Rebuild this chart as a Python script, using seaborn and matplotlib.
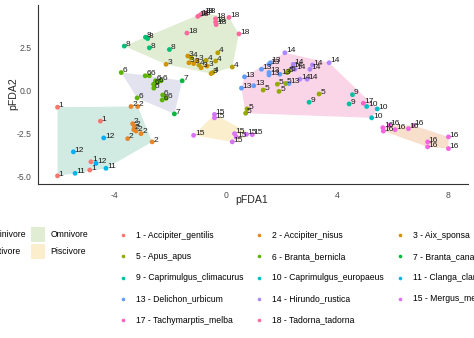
import numpy as np
import pandas as pd
import matplotlib
matplotlib.use("Agg")
import matplotlib.pyplot as plt
import seaborn as sns
from matplotlib.patches import Rectangle
from matplotlib.lines import Line2D

sns.set_style("white")
plt.rcParams['font.family'] = ['Liberation Sans', 'DejaVu Sans']

# ---------------- data ----------------
species_names = [
    "Accipiter_gentilis", "Accipiter_nisus", "Aix_sponsa", "Anas_platyrhynchos",
    "Apus_apus", "Branta_bernicla", "Branta_canadensis", "Cairina_moschata",
    "Caprimulgus_climacurus", "Caprimulgus_europaeus", "Clanga_clanga", "Clanga_pomarina",
    "Delichon_urbicum", "Hirundo_rustica", "Mergus_merganser", "Phoenicopterus_roseus",
    "Tachymarptis_melba", "Tadorna_tadorna",
]
species_diet = [
    "Carnivore", "Carnivore", "Omnivore", "Omnivore", "Insectivore", "Graminivore",
    "Graminivore", "Omnivore", "Insectivore", "Insectivore", "Carnivore", "Carnivore",
    "Insectivore", "Insectivore", "Piscivore", "Filter-feeder", "Insectivore", "Omnivore",
]
diet_levels = ["Carnivore", "Filter-feeder", "Graminivore", "Insectivore", "Omnivore", "Piscivore"]

point_species = ([1] * 5 + [2] * 9 + [3] * 8 + [4] * 7 + [5] * 9 + [6] * 12 + [7] * 2 + [8] * 5
                 + [9] * 3 + [10] * 3 + [11] * 2 + [12] * 3 + [13] * 10 + [14] * 9 + [15] * 8
                 + [16] * 10 + [17] * 1 + [18] * 10)
point_x = [
    -6.04, -4.50, -4.84, -4.88, -6.04,
    -3.40, -3.16, -3.34, -3.28, -3.30, -3.22, -3.04, -3.52, -2.64,
    -2.14, -1.36, -1.32, -1.15, -1.03, -0.88, -0.67, -0.52,
    -1.24, -0.96, -0.70, -0.46, -0.36, -0.28, 0.24,
    1.35, 1.92, 1.86, 2.16, 2.28, 2.21, 3.36, 0.77, 0.72,
    -3.75, -2.89, -2.74, -2.59, -2.52, -2.44, -2.32, -2.58, -2.26, -2.14, -2.28, -3.18,
    -1.56, -1.84,
    -3.64, -2.88, -2.80, -2.74, -2.02,
    3.00, 4.44, 4.56,
    5.07, 5.45, 5.25,
    -5.41, -4.30,
    -4.38, -5.47, -4.66,
    0.57, 0.68, 1.29, 1.56, 1.61, 1.56, 1.56, 1.95, 2.28, 1.01,
    2.13, 2.43, 2.40, 2.49, 3.03, 3.12, 3.72, 2.67, 2.93,
    -0.40, -0.40, -1.15, 0.32, 0.38, 0.24, 0.75, 0.96,
    5.65, 5.67, 5.89, 6.09, 6.57, 6.75, 7.26, 7.26, 8.01, 8.01,
    4.95,
    -1.00, -0.91, -0.82, -0.72, -0.36, -0.36, -0.34, 0.12, -1.39, 0.48,
]
point_y = [
    -0.96, -1.77, -4.14, -4.62, -4.96,
    -0.92, -0.92, -1.92, -2.08, -2.27, -2.35, -2.50, -2.79, -2.98,
    1.54, 2.02, 1.63, 1.58, 1.77, 1.34, 1.44, 1.00,
    1.92, 1.50, 1.77, 1.06, 1.73, 2.21, 1.38,
    0.04, -0.04, 0.38, 0.42, 1.15, 1.06, -0.19, -1.06, -1.31,
    1.06, 0.87, 0.87, 0.38, 0.58, 0.48, 0.58, 0.15, -0.25, -0.44, -0.54, -0.42,
    0.58, -1.35,
    2.60, 3.12, 3.04, 2.50, 2.40,
    -0.67, -0.77, -0.23,
    -0.92, -1.06, -1.58,
    -4.81, -4.52,
    -2.75, -3.56, -4.23,
    0.15, 0.81, 1.25, 1.54, 1.63, 1.06, 0.92, 0.96, 0.42, 0.29,
    2.21, 1.54, 1.34, 1.25, 1.25, 1.50, 1.63, 0.67, 0.67,
    -1.38, -1.58, -2.60, -2.50, -2.69, -2.98, -2.54, -2.56,
    -2.15, -2.35, -2.02, -2.27, -2.21, -2.02, -2.98, -3.27, -2.69, -3.37,
    -0.73,
    4.33, 4.42, 4.52, 4.52, 4.19, 4.00, 3.85, 4.27, 3.36, 3.31,
]
x_ticks = [-4, 0, 4, 8]
y_ticks = [-5.0, -2.5, 0.0, 2.5]
y_tick_labels = ["-5.0", "-2.5", "0.0", "2.5"]

# ---------------- colours ----------------
def hcl_hex(h, c=100.0, l=65.0):
    Xn, Yn, Zn = 95.047, 100.0, 108.883
    den = Xn + 15 * Yn + 3 * Zn
    un, vn = 4 * Xn / den, 9 * Yn / den
    Y = Yn * ((l + 16) / 116) ** 3
    hr = np.radians(h)
    u, v = c * np.cos(hr), c * np.sin(hr)
    up, vp = u / (13 * l) + un, v / (13 * l) + vn
    X = Y * 9 * up / (4 * vp)
    Z = Y * (12 - 3 * up - 20 * vp) / (4 * vp)
    X, Y, Z = X / 100, Y / 100, Z / 100
    rgb = np.array([3.240479 * X - 1.537150 * Y - 0.498535 * Z,
                    -0.969256 * X + 1.875992 * Y + 0.041556 * Z,
                    0.055648 * X - 0.204043 * Y + 1.057311 * Z])
    rgb = np.where(rgb <= 0.0031308, 12.92 * rgb, 1.055 * np.abs(rgb) ** (1 / 2.4) - 0.055)
    rgb = np.clip(rgb, 0, 1)
    return matplotlib.colors.to_hex(rgb)

n_sp = len(species_names)
sp_colors = [hcl_hex(15 + 360 * i / n_sp) for i in range(n_sp)]
diet_colors = ["#1B9E77", "#D95F02", "#7570B3", "#E7298A", "#66A61E", "#E6AB02"]
diet_alpha = 0.2

df = pd.DataFrame({"sp": point_species, "x": point_x, "y": point_y})
df["label"] = df["sp"].astype(str)
df["diet"] = [species_diet[s - 1] for s in df["sp"]]

# ---------------- figure ----------------
W, H = 474, 338
fig = plt.figure(figsize=(W / 100, H / 100), dpi=100)
ax = fig.add_axes([38 / W, 1 - 184 / H, 430 / W, 179 / H])

def hull(pts):
    pts = sorted(set(map(tuple, pts)))
    if len(pts) < 3:
        return pts
    def cross(o, a, b):
        return (a[0] - o[0]) * (b[1] - o[1]) - (a[1] - o[1]) * (b[0] - o[0])
    lower, upper = [], []
    for p in pts:
        while len(lower) >= 2 and cross(lower[-2], lower[-1], p) <= 0:
            lower.pop()
        lower.append(p)
    for p in reversed(pts):
        while len(upper) >= 2 and cross(upper[-2], upper[-1], p) <= 0:
            upper.pop()
        upper.append(p)
    return lower[:-1] + upper[:-1]

for d, col in zip(diet_levels, diet_colors):
    sub = df[df["diet"] == d]
    if len(sub) == 0:
        continue
    hp = np.array(hull(sub[["x", "y"]].values))
    ax.fill(hp[:, 0], hp[:, 1], color=col, alpha=diet_alpha, lw=0, zorder=1)

sns.scatterplot(data=df, x="x", y="y", hue="sp", palette=dict(zip(range(1, n_sp + 1), sp_colors)),
                s=12, linewidth=0, legend=False, ax=ax, zorder=3)
for _, r in df.iterrows():
    ax.annotate(r["label"], (r["x"], r["y"]), xytext=(0.9, 1.3), textcoords="offset points",
                ha="left", va="center", fontsize=6.0, color="#1a1a1a", zorder=4)

xr = df["x"].max() - df["x"].min()
yr = df["y"].max() - df["y"].min()
ax.set_xlim(df["x"].min() - 0.05 * xr, df["x"].max() + 0.05 * xr)
ax.set_ylim(df["y"].min() - 0.05 * yr, df["y"].max() + 0.05 * yr)
ax.set_xticks(x_ticks)
ax.set_xticklabels([str(t) for t in x_ticks])
ax.set_yticks(y_ticks)
ax.set_yticklabels(y_tick_labels)
ax.set_xlabel("")
ax.set_ylabel("")
for s in ["top", "right"]:
    ax.spines[s].set_visible(False)
for s in ["left", "bottom"]:
    ax.spines[s].set_color("#333333")
    ax.spines[s].set_linewidth(0.8)
ax.tick_params(axis="both", length=2.5, width=0.6, color="#333333", labelsize=6.2,
               labelcolor="#4D4D4D", pad=2.2)

def fx(px):
    return px / W

def fy(py):
    return 1 - py / H

fig.text(fx(252), fy(200), "pFDA1", ha="center", va="center", fontsize=7.6)
fig.text(fx(13), fy(94), "pFDA2", ha="center", va="center", rotation=90, fontsize=7.6)

# ---------------- fill legend (diet) ----------------
leg_cols = [(-62, ["Carnivore", "Filter-feeder"]), (-21.5, ["Graminivore", "Insectivore"]),
            (50.7, ["Omnivore", "Piscivore"])]
row_y = [234.5, 251]
for (tx, names) in leg_cols:
    for j, name in enumerate(names):
        col = diet_colors[diet_levels.index(name)]
        fig.patches.append(Rectangle((fx(tx - 20), fy(row_y[j] + 7.5)), 14.3 / W, 15 / H,
                                     transform=fig.transFigure, facecolor=col, alpha=diet_alpha,
                                     lw=0))
        fig.text(fx(tx), fy(row_y[j]), name, ha="left", va="center", fontsize=6.2, color="black")

# ---------------- species legend ----------------
sp_col_x = [122.7, 259.3, 400, 541]
sp_row_y = [235, 256.3, 277.6, 298.9, 320.2]
for i, name in enumerate(species_names):
    r, c = divmod(i, 4)
    fig.lines.append(Line2D([fx(sp_col_x[c])], [fy(sp_row_y[r])], transform=fig.transFigure,
                            marker="o", markersize=2.6, markeredgewidth=0, color=sp_colors[i]))
    fig.text(fx(sp_col_x[c] + 13), fy(sp_row_y[r]), f"{i + 1} - {name}", ha="left", va="center",
             fontsize=6.2, color="black")

fig.savefig("out.png", dpi=100)
